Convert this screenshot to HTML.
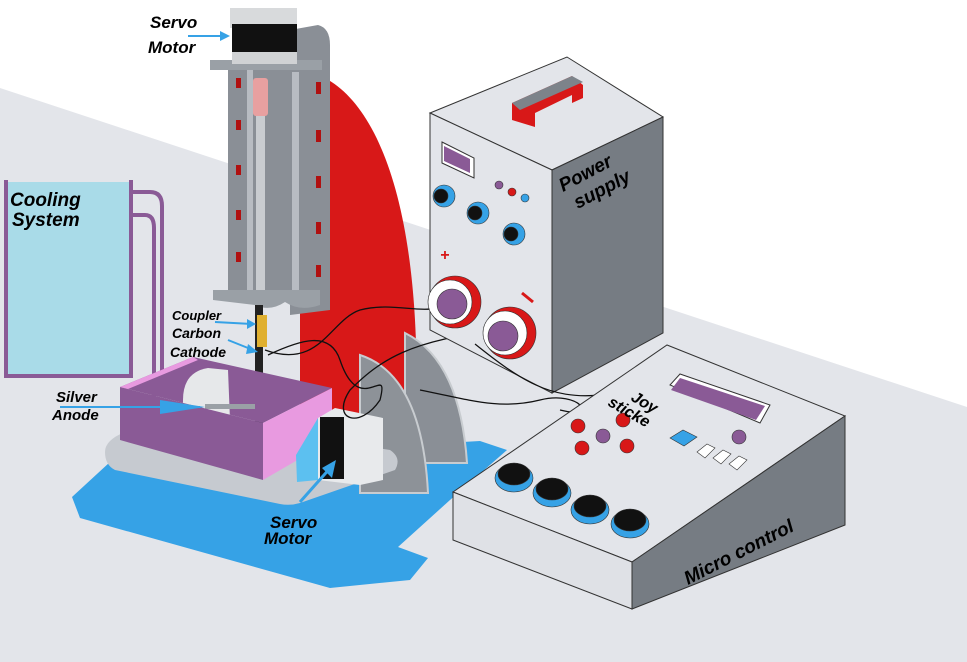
<!DOCTYPE html>
<html><head><meta charset="utf-8"><style>
html,body{margin:0;padding:0;background:#fff;}
svg{display:block;}
text{font-family:"Liberation Sans",sans-serif;font-weight:bold;font-style:italic;fill:#000;}
</style></head><body>
<svg width="967" height="662" viewBox="0 0 967 662" xmlns="http://www.w3.org/2000/svg">
<!-- floor -->
<polygon points="0,88 967,407 967,662 0,662" fill="#e3e5ea"/>
<!-- red half disc -->
<path d="M325,78 C385,110 425,230 415,440 L300,440 L300,80 Z" fill="#d81818"/>
<!-- blue mat -->
<polygon points="72,497 110,462 480,441 507,450 450,500 398,547 428,558 410,580 330,588 80,518" fill="#36a2e6"/>
<!-- cooling tank -->
<rect x="6" y="182" width="124" height="194" fill="#a9dbe8"/>
<path d="M6,180 L6,376 L131,376 L131,180" fill="none" stroke="#8a5a96" stroke-width="4"/>
<path d="M131,192 L150,192 Q162,192 162,206 L162,380" fill="none" stroke="#8a5a96" stroke-width="4"/>
<path d="M131,215 L145,215 Q154,215 154,228 L154,400" fill="none" stroke="#8a5a96" stroke-width="4"/>
<text x="10" y="206" font-size="19">Cooling</text>
<text x="12" y="226" font-size="19">System</text>
<!-- back column plate -->
<path d="M290,30 L318,25 Q330,28 330,45 L330,310 L290,315 Z" fill="#8a8f96"/>
<rect x="228" y="66" width="92" height="230" fill="#8a8f96"/>
<g fill="#b01010">
<rect x="236" y="78" width="5" height="10"/><rect x="236" y="120" width="5" height="10"/><rect x="236" y="165" width="5" height="10"/><rect x="236" y="210" width="5" height="10"/><rect x="236" y="252" width="5" height="10"/>
<rect x="316" y="82" width="5" height="12"/><rect x="316" y="130" width="5" height="12"/><rect x="316" y="176" width="5" height="12"/><rect x="316" y="222" width="5" height="12"/><rect x="316" y="265" width="5" height="12"/>
</g>
<rect x="247" y="68" width="6" height="225" fill="#b8bcc2"/>
<rect x="292" y="72" width="7" height="225" fill="#b8bcc2"/>
<rect x="256" y="115" width="9" height="180" fill="#c9ccd0"/>
<rect x="253" y="78" width="15" height="38" rx="3" fill="#e8a0a0"/>
<rect x="210" y="60" width="112" height="10" fill="#9aa0a6"/>
<rect x="230" y="8" width="67" height="20" fill="#d8dadc"/>
<rect x="232" y="24" width="65" height="30" fill="#111"/>
<rect x="232" y="52" width="65" height="12" fill="#d0d2d4"/>
<path d="M213,290 L320,290 L320,305 Q300,312 285,302 Q270,312 255,305 L213,300 Z" fill="#9aa0a6"/>
<!-- cathode -->
<rect x="255" y="305" width="8" height="118" fill="#222"/>
<rect x="257" y="315" width="10" height="32" fill="#e0b030"/>
<!-- gray fins -->
<path d="M405,333 Q460,360 467,463 L405,463 Z" fill="#8a8f96" stroke="#c8ccd0" stroke-width="2"/>
<path d="M360,355 Q422,375 428,493 L360,493 Z" fill="#8d9298" stroke="#c8ccd0" stroke-width="2"/>
<!-- base plate -->
<path d="M105,452 Q105,440 125,432 L190,420 L390,450 Q402,458 395,470 L300,503 Q290,506 280,504 L115,470 Q105,465 105,452 Z" fill="#c6cad0"/>
<!-- pink box -->
<polygon points="120,387 193,357 332,388 263,423" fill="#8a5a96"/>
<path d="M183,400 Q183,372 208,368 L228,370 L230,420 L183,405 Z" fill="#e6e8ea"/>
<rect x="205" y="404" width="50" height="5" fill="#9aa0a6"/>
<polygon points="120,387 263,423 263,480 120,440" fill="#8a5a96"/>
<polygon points="263,423 332,388 332,440 263,480" fill="#e89ae0"/>
<polygon points="120,387 193,357 198,360 128,389" fill="#e89ae0"/>
<!-- small servo -->
<polygon points="296,455 318,418 318,480 297,482" fill="#5cc0f0"/>
<polygon points="318,418 335,408 383,418 383,480 360,485 318,480" fill="#e8eaec"/>
<rect x="320" y="417" width="24" height="62" fill="#111"/>
<!-- wires -->
<g fill="none" stroke="#111" stroke-width="1.3">
<path d="M265,350 C320,370 330,320 360,310 C400,300 430,320 450,300"/>
<path d="M268,355 C300,340 330,330 340,360 C360,420 390,360 380,400 C360,430 330,420 350,390 C380,360 410,340 500,330"/>
<path d="M420,390 C470,400 500,410 540,400 C580,390 600,420 560,410"/>
</g>
<!-- power supply -->
<polygon points="430,113 567,57 663,117 552,170" fill="#e3e5ea" stroke="#333" stroke-width="1"/>
<polygon points="430,113 552,170 552,393 430,330" fill="#e3e5ea" stroke="#333" stroke-width="1"/>
<polygon points="552,170 663,117 663,333 552,393" fill="#767c83" stroke="#333" stroke-width="1"/>
<polygon points="512,103 572,76 583,85 583,98 572,103 572,95 535,113 535,127 512,120" fill="#d81818"/>
<polygon points="512,103 572,76 583,82 520,110" fill="#7d838a"/>
<polygon points="442,142 474,158 474,178 442,163" fill="#fff" stroke="#333"/>
<polygon points="444,146 470,159 470,173 444,161" fill="#8a5a96"/>
<g stroke="#333" stroke-width="0.6">
<circle cx="444" cy="196" r="11" fill="#36a2e6"/><circle cx="441" cy="196" r="7" fill="#111"/>
<circle cx="478" cy="213" r="11" fill="#36a2e6"/><circle cx="475" cy="213" r="7" fill="#111"/>
<circle cx="514" cy="234" r="11" fill="#36a2e6"/><circle cx="511" cy="234" r="7" fill="#111"/>
<circle cx="499" cy="185" r="4" fill="#8a5a96"/><circle cx="512" cy="192" r="4" fill="#d81818"/><circle cx="525" cy="198" r="4" fill="#36a2e6"/>
<circle cx="455" cy="302" r="26" fill="#d81818"/><circle cx="450" cy="302" r="22" fill="#fff"/><circle cx="452" cy="304" r="15" fill="#8a5a96"/>
<circle cx="510" cy="333" r="26" fill="#d81818"/><circle cx="505" cy="333" r="22" fill="#fff"/><circle cx="503" cy="336" r="15" fill="#8a5a96"/>
</g>
<text x="440" y="260" font-size="16" style="fill:#d81818">+</text>
<line x1="522" y1="293" x2="533" y2="302" stroke="#d81818" stroke-width="3"/>
<g transform="translate(563,192) rotate(-28)"><text font-size="19" font-style="normal">Power</text><text y="22" x="5" font-size="19" font-style="normal">supply</text></g>
<path d="M475,344 C520,380 550,400 600,395" fill="none" stroke="#111" stroke-width="1.2"/>
<!-- micro control -->
<polygon points="453,492 667,345 845,416 632,562" fill="#e3e5ea" stroke="#333"/>
<polygon points="453,492 632,562 632,609 453,540" fill="#dfe1e6" stroke="#333"/>
<polygon points="632,562 845,416 845,525 632,609" fill="#767c83" stroke="#333"/>
<polygon points="670,385 680,374 770,405 760,423" fill="#fff" stroke="#333"/>
<polygon points="680,378 765,406 756,420 671,390" fill="#8a5a96"/>
<g stroke="#333" stroke-width="0.6">
<circle cx="578" cy="426" r="7" fill="#d81818"/><circle cx="623" cy="420" r="7" fill="#d81818"/><circle cx="603" cy="436" r="7" fill="#8a5a96"/>
<circle cx="582" cy="448" r="7" fill="#d81818"/><circle cx="627" cy="446" r="7" fill="#d81818"/><circle cx="739" cy="437" r="7" fill="#8a5a96"/>
<polygon points="670,438 683,430 697,437 684,446" fill="#36a2e6"/>
<polygon points="697,452 707,444 715,448 705,458" fill="#fff"/><polygon points="713,458 723,450 731,454 721,464" fill="#fff"/><polygon points="729,464 739,456 747,460 737,470" fill="#fff"/>
<ellipse cx="514" cy="478" rx="19" ry="14" fill="#36a2e6"/><ellipse cx="514" cy="474" rx="16" ry="11" fill="#111"/>
<ellipse cx="552" cy="493" rx="19" ry="14" fill="#36a2e6"/><ellipse cx="552" cy="489" rx="16" ry="11" fill="#111"/>
<ellipse cx="590" cy="510" rx="19" ry="14" fill="#36a2e6"/><ellipse cx="590" cy="506" rx="16" ry="11" fill="#111"/>
<ellipse cx="630" cy="524" rx="19" ry="14" fill="#36a2e6"/><ellipse cx="630" cy="520" rx="16" ry="11" fill="#111"/>
</g>
<g transform="translate(630,400) rotate(30)"><text font-size="16" font-style="normal">Joy</text></g>
<g transform="translate(607,405) rotate(30)"><text font-size="16" font-style="normal">sticke</text></g>
<g transform="translate(688,585) rotate(-27)"><text font-size="19" font-style="normal">Micro control</text></g>
<!-- labels -->
<text x="150" y="28" font-size="17">Servo</text>
<text x="148" y="53" font-size="17">Motor</text>
<path d="M188,36 L225,36" stroke="#36a2e6" stroke-width="2"/><polygon points="230,36 220,31 220,41" fill="#36a2e6"/>
<text x="172" y="320" font-size="13">Coupler</text>
<text x="172" y="338" font-size="14">Carbon</text>
<text x="170" y="357" font-size="14">Cathode</text>
<path d="M215,322 L252,324" stroke="#36a2e6" stroke-width="2"/><polygon points="256,324 247,319 247,329" fill="#36a2e6"/>
<path d="M228,340 L253,350" stroke="#36a2e6" stroke-width="2"/><polygon points="258,352 248,344 246,354" fill="#36a2e6"/>
<text x="56" y="402" font-size="15">Silver</text>
<text x="52" y="420" font-size="15">Anode</text>
<path d="M60,407 L200,407" stroke="#36a2e6" stroke-width="2"/><polygon points="205,407 160,400 160,414" fill="#36a2e6"/>
<text x="270" y="528" font-size="17">Servo</text>
<text x="264" y="544" font-size="17">Motor</text>
<path d="M300,502 L332,466" stroke="#36a2e6" stroke-width="3"/><polygon points="336,460 322,468 332,478" fill="#36a2e6"/>
</svg>
</body></html>
